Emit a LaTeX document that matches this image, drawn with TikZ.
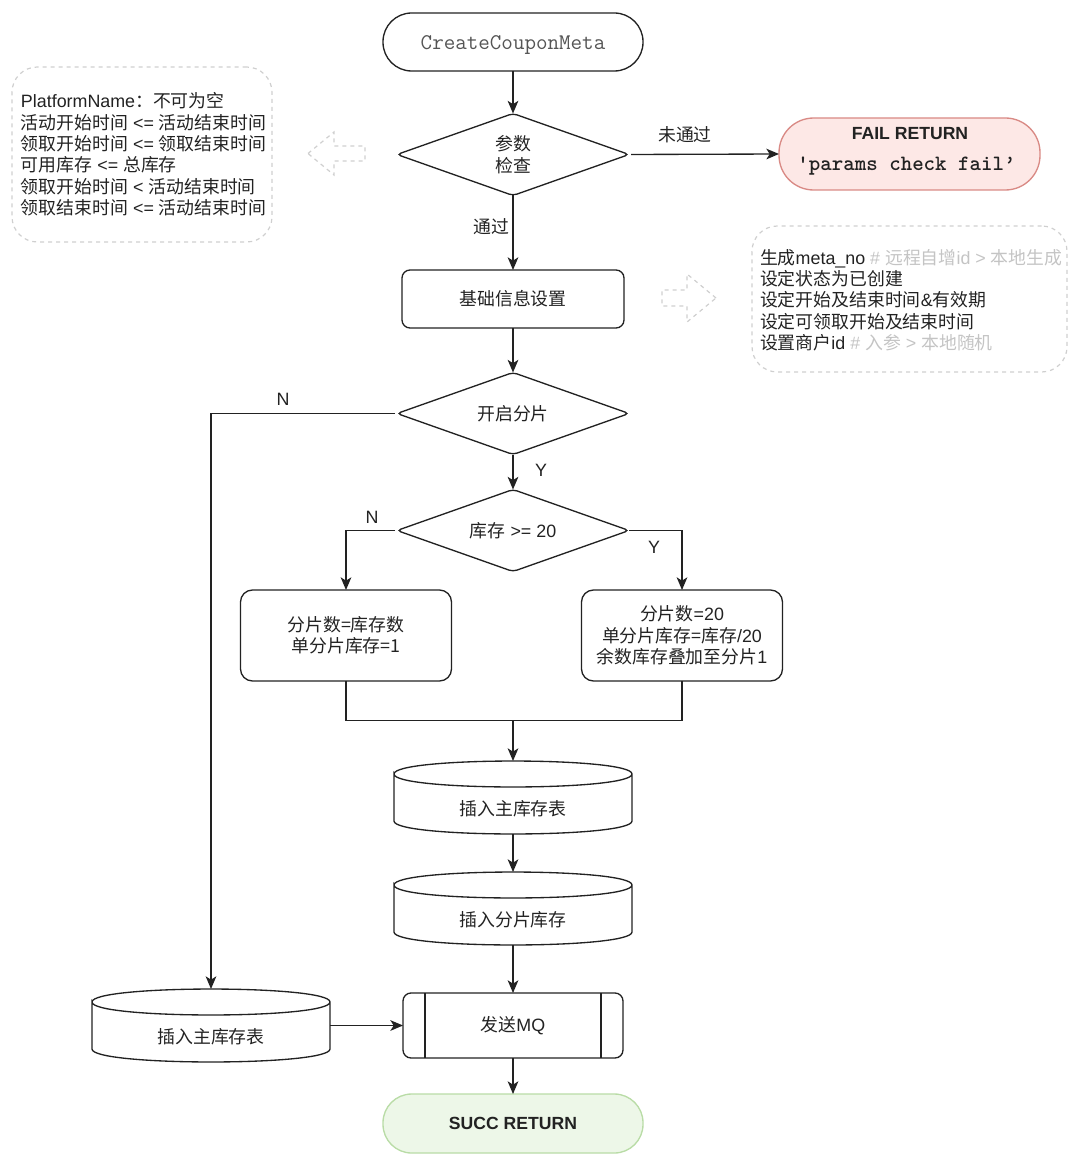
\documentclass[tikz,border=0pt]{standalone}
\usepackage{fontspec}
\setmainfont{Liberation Sans}
\newfontfamily\cjk{Noto Sans CJK SC}
\usetikzlibrary{shapes.geometric,arrows.meta}
\newcommand{\zh}[1]{{\cjk #1}}
\newcommand{\gr}[1]{\textcolor{notetxt}{#1}}
\definecolor{ink}{HTML}{222222}
\definecolor{monoink}{HTML}{555555}
\definecolor{notetxt}{HTML}{C4C4C4}
\definecolor{dashc}{HTML}{CFCFCF}
\definecolor{failf}{HTML}{FDE8E6}
\definecolor{faild}{HTML}{D98A85}
\definecolor{succf}{HTML}{EDF7E8}
\definecolor{succd}{HTML}{B9DCA6}
\tikzset{
  x=.75pt,y=-.75pt,
  every node/.style={text=ink,font=\fontsize{13.4}{16}\selectfont,inner sep=0pt,outer sep=0pt},
  sz/.style 2 args={minimum width=#1*.75pt,minimum height=#2*.75pt},
  line/.style={draw=ink,line width=1pt},
  conn/.style={line,-{Stealth[length=9.5pt,width=8pt,inset=2.5pt]}},
  stadium/.style={line,rounded corners=21.5pt,align=center},
  boxr/.style={line,rounded corners=#1,align=center},
  dec/.style={line,diamond,aspect=2.8,rounded corners=3pt,align=center},
  note/.style={draw=dashc,line width=.9pt,dashed,rounded corners=19pt},
  notetext/.style={align=left,anchor=west},
  hollow/.style={draw=dashc,line width=.9pt,dashed},
  lab/.style={},
  dbshape/.style={minimum width=238*.75pt,minimum height=73*.75pt},
}
% name, centre x, top y, text
\newcommand{\dbcyl}[4]{%
  \node[dbshape,anchor=north] (#1) at (#2,#3) {};
  \draw[line] ({#2-119},{#3+13}) .. controls ({#2-119},{#3-4.3}) and ({#2+119},{#3-4.3}) .. ({#2+119},{#3+13})
     .. controls ({#2+119},{#3+30.3}) and ({#2-119},{#3+30.3}) .. ({#2-119},{#3+13})
     -- ({#2-119},{#3+60}) .. controls ({#2-119},{#3+77.3}) and ({#2+119},{#3+77.3}) .. ({#2+119},{#3+60})
     -- ({#2+119},{#3+13});
  \node (#1t) at (#2,{#3+48}) {\zh{#4}};
}
\begin{document}
\begin{tikzpicture}
\useasboundingbox (0,0) rectangle (1080,1166);
% main nodes
\node[stadium,sz={260}{58},text height=13.5pt,text depth=2.5pt,text=monoink] (start) at (513,42) {\fontsize{16.8}{16}\selectfont\ttfamily CreateCouponMeta};
\node[dec,sz={232}{82}] (d1) at (513,154.5) {\zh{参数}\\\zh{检查}};
\node[stadium,sz={261}{72},draw=faild,fill=failf,rounded corners=26pt] (fail) at (909.5,154) {};
\node (failt) at (910,133.5) {\fontsize{13.2}{16}\selectfont\bfseries FAIL RETURN};
\node (failp) at (906.5,166.5) {\fontsize{16.4}{16}\selectfont\ttfamily\bfseries \symbol{39}params check fail’};
\node[boxr=6pt,sz={222}{58}] (base) at (513,299) {\zh{基础信息设置}};
\node[dec,sz={232}{82}] (d2) at (513,413.5) {\zh{开启分片}};
\node[dec,sz={232}{82}] (d3) at (513,530.5) {\zh{库存} >= 20};
\node[boxr=9pt,sz={211}{91}] (lb) at (346,635.5) {\zh{分片数=库存数}\\\zh{单分片库存=1}};
\node[boxr=9pt,sz={201}{91}] (rb) at (682,635.5) {\zh{分片数}=20\\\zh{单分片库存=库存}/20\\\zh{余数库存叠加至分片}1};
\dbcyl{c1}{513}{761}{插入主库存表}
\dbcyl{c2}{513}{872}{插入分片库存}
\dbcyl{c3}{211}{989}{插入主库存表}
\node[boxr=6pt,sz={220}{65}] (mq) at (513,1025.5) {\zh{发送}MQ};
\coordinate (mql) at (425,993); \coordinate (mql2) at (425,1058);
\coordinate (mqr) at (601,993); \coordinate (mqr2) at (601,1058);
\draw[line,line width=.8pt] (mql) -- (mql2) (mqr) -- (mqr2);
\node[stadium,sz={260}{59},draw=succd,fill=succf] (succ) at (513,1123.5) {\fontsize{13.2}{16}\selectfont\bfseries SUCC RETURN};
% notes
\node[note,sz={260}{175}] (n1) at (142,154.5) {};
\node[notetext] (n1t) at (21,154.5) {PlatformName\zh{：不可为空}\\\zh{活动开始时间} <= \zh{活动结束时间}\\\zh{领取开始时间} <= \zh{领取结束时间}\\\zh{可用库存} <= \zh{总库存}\\\zh{领取开始时间} < \zh{活动结束时间}\\\zh{领取结束时间} <= \zh{活动结束时间}};
\node[note,sz={315}{146}] (n2) at (909.5,299) {};
\node[notetext] (n2t) at (760,300) {\zh{生成}meta\_no \gr{\# \zh{远程自增}id > \zh{本地生成}}\\\zh{设定状态为已创建}\\\zh{设定开始及结束时间}\&\zh{有效期}\\\zh{设定可领取开始及结束时间}\\\zh{设置商户}id \gr{\# \zh{入参} > \zh{本地随机}}};
% hollow arrows
\draw[hollow] (308,153.5) -- (334,132) -- (334,146) -- (365,146) -- (365,161) -- (334,161) -- (334,175) -- cycle;
\draw[hollow] (716,298) -- (687,274) -- (687,290) -- (662,290) -- (662,306) -- (687,306) -- (687,322) -- cycle;
% connectors
\coordinate (j) at (513,720.5);
\draw[conn] (start) -- (d1);
\draw[conn] (d1) -- (base);
\draw[conn,shorten <=1.5pt] (d1.east) -- (fail.west);
\draw[conn] (base) -- (d2);
\draw[conn] (d2) -- (d3);
\draw[conn,shorten <=1.5pt] (d2.west) -| (c3.north);
\draw[conn,shorten <=1.5pt] (d3.west) -| (lb.north);
\draw[conn] (d3.east) -| (rb.north);
\draw[line] (lb.south) |- (j);
\draw[line] (rb.south) |- (j);
\draw[conn] (j) -- (c1.north);
\draw[conn] (c1.south) -- (c2.north);
\draw[conn] (c2.south) -- (mq.north);
\draw[conn] (c3.east) -- (mq.west);
\draw[conn] (mq.south) -- (succ.north);
% labels
\node[lab] (l1) at (685,135) {\zh{未通过}};
\node[lab] (l2) at (491,227) {\zh{通过}};
\node[lab] (l3) at (283,399) {N};
\node[lab] (l4) at (541,470) {Y};
\node[lab] (l5) at (372,517.5) {N};
\node[lab] (l6) at (654,547) {Y};
\end{tikzpicture}
\end{document}
